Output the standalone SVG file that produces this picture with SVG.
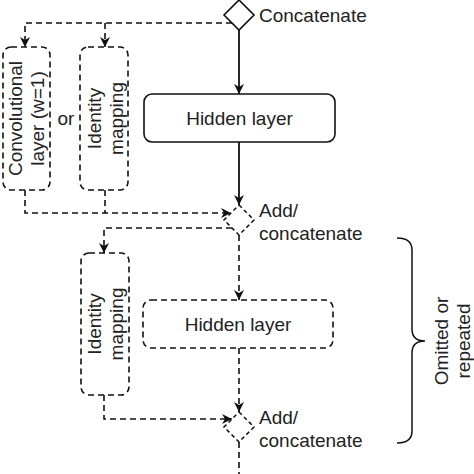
<svg xmlns="http://www.w3.org/2000/svg" width="474" height="474" viewBox="0 0 474 474">
<defs>
<style>
text{font-family:"Liberation Sans",Arial,sans-serif;font-size:19px;fill:#222}
.c{text-anchor:middle}
.v{text-anchor:middle;dominant-baseline:central}
.solid{fill:none;stroke:#111;stroke-width:1.8}
.dash{fill:none;stroke:#111;stroke-width:1.6;stroke-dasharray:6 4}
.box{fill:#fff;stroke:#111;stroke-width:1.6}
.dbox{fill:#fff;stroke:#111;stroke-width:1.6;stroke-dasharray:6 4}
.ddia{fill:#fff;stroke:#111;stroke-width:1.5;stroke-dasharray:4 3}
</style>
<marker id="arr" viewBox="0 0 10 10" markerWidth="11" markerHeight="10" markerUnits="userSpaceOnUse" refX="10" refY="5" orient="auto">
<path d="M0,0 L10,5 L0,10 L3,5 z" fill="#111"/>
</marker>
</defs>
<rect width="474" height="474" fill="#fff"/>
<g id="connectors">
<path class="solid" d="M239,30 V94" marker-end="url(#arr)"/>
<path class="solid" d="M239,142 V205" marker-end="url(#arr)"/>
<path class="dash" d="M232,23 H25 V47" marker-end="url(#arr)"/>
<path class="dash" d="M105,23 V47" marker-end="url(#arr)"/>
<path class="dash" d="M25,190 V213 H231" marker-end="url(#arr)"/>
<path class="dash" d="M105,190 V213"/>
<path class="dash" d="M232,228 H104 V253" marker-end="url(#arr)"/>
<path class="dash" d="M239,235 V300" marker-end="url(#arr)"/>
<path class="dash" d="M239,348 V412" marker-end="url(#arr)"/>
<path class="dash" d="M104,395 V419 H232" marker-end="url(#arr)"/>
<path class="dash" d="M239,442 V474"/>
</g>
<g id="concat-top">
<polygon class="box" points="239,0 254,15 239,30 224,15"/>
<text x="259" y="22">Concatenate</text>
</g>
<g id="hidden1">
<rect class="box" x="144" y="94" width="191" height="48" rx="8"/>
<text class="c" x="239.5" y="124.5">Hidden layer</text>
</g>
<g id="conv">
<rect class="dbox" x="3" y="47" width="47" height="143" rx="8"/>
<text class="v" transform="translate(15.5,118.5) rotate(-90)">Convolutional</text>
<text class="v" transform="translate(37.5,118.5) rotate(-90)">layer (w=1)</text>
</g>
<g id="or">
<text class="c" x="66" y="125">or</text>
</g>
<g id="identity1">
<rect class="dbox" x="80" y="47" width="48" height="143" rx="8"/>
<text class="v" transform="translate(94,118.5) rotate(-90)">Identity</text>
<text class="v" transform="translate(116,118.5) rotate(-90)">mapping</text>
</g>
<g id="add1">
<polygon class="ddia" points="239,205 254,220 239,235 224,220"/>
<text x="259" y="217">Add/</text>
<text x="259" y="240">concatenate</text>
</g>
<g id="identity2">
<rect class="dbox" x="81" y="253" width="48" height="142" rx="8"/>
<text class="v" transform="translate(94,324) rotate(-90)">Identity</text>
<text class="v" transform="translate(116,324) rotate(-90)">mapping</text>
</g>
<g id="hidden2">
<rect class="dbox" x="143" y="300" width="190" height="48" rx="8"/>
<text class="c" x="238" y="331">Hidden layer</text>
</g>
<g id="add2">
<polygon class="ddia" points="239,412 254,427 239,442 224,427"/>
<text x="259" y="424">Add/</text>
<text x="259" y="447">concatenate</text>
</g>
<g id="brace">
<path class="solid" style="stroke-width:1.5" d="M397,238 Q412,238 412,250 V329 Q412,341 425,341 Q412,341 412,353 V431 Q412,443 397,443"/>
<text class="v" transform="translate(441,341) rotate(-90)">Omitted or</text>
<text class="v" transform="translate(463,341) rotate(-90)">repeated</text>
</g>
</svg>
